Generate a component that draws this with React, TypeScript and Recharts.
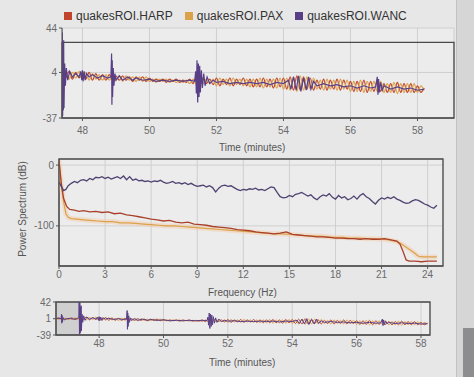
import { LineChart, Line, XAxis, YAxis, CartesianGrid, ReferenceArea } from "recharts";

// series names + colours
const NAMES = ["quakesROI.HARP", "quakesROI.PAX", "quakesROI.WANC"];
const COLORS = ["#c0452c", "#dba24a", "#583f86"];

// seismogram, common sample times (minutes)
const TIME = [
  47.4, 47.5, 47.6, 47.7, 47.8, 47.9,
  48.0, 48.1, 48.2, 48.3, 48.4, 48.5, 48.6, 48.7, 48.8, 48.9,
  49.0, 49.1, 49.2, 49.3, 49.4, 49.5, 49.6, 49.7, 49.8, 49.9,
  50.0, 50.1, 50.2, 50.3, 50.4, 50.5, 50.6, 50.7, 50.8, 50.9,
  51.0, 51.1, 51.2, 51.3, 51.4, 51.5, 51.6, 51.7, 51.8, 51.9,
  52.0, 52.1, 52.2, 52.3, 52.4, 52.5, 52.6, 52.7, 52.8, 52.9,
  53.0, 53.1, 53.2, 53.3, 53.4, 53.5, 53.6, 53.7, 53.8, 53.9,
  54.0, 54.1, 54.2, 54.3, 54.4, 54.5, 54.6, 54.7, 54.8, 54.9,
  55.0, 55.1, 55.2, 55.3, 55.4, 55.5, 55.6, 55.7, 55.8, 55.9,
  56.0, 56.1, 56.2, 56.3, 56.4, 56.5, 56.6, 56.7, 56.8, 56.9,
  57.0, 57.1, 57.2, 57.3, 57.4, 57.5, 57.6, 57.7, 57.8, 57.9,
  58.0, 58.1, 58.2,
];
const HARP_WAVE = [
  4, -1, 5, -2, 4, -1,
  3, -2, 4, -3, 3, -3, 2, -3, 2, -3,
  1, -3, 1, -3, 0, -4, 0, -3, 0, -4,
  -1, -4, -2, -4, -2, -5, -2, -4, -2, -5,
  -3, -5, -2, -6, 0, -7, -1, -6, -2, -7,
  -1, -8, -2, -7, -1, -8, -2, -7, -1, -8,
  -2, -9, -2, -9, -1, -9, -2, -10, -1, -9,
  -1, -11, 0, -12, 1, -12, 0, -11, -1, -12,
  -3, -11, -2, -12, -3, -11, -2, -12, -3, -11,
  -4, -13, -4, -13, -3, -14, -4, -13, -4, -13,
  -6, -14, -6, -14, -5, -14, -6, -14, -6, -14,
  -8, -14, -10,
];
const PAX_WAVE = [
  -1, 5, -2, 4, -1, 5,
  -2, 4, -3, 3, -2, 2, -3, 2, -3, 1,
  -3, 1, -4, 1, -3, 0, -4, 0, -4, 0,
  -4, -2, -5, -2, -4, -2, -5, -3, -5, -3,
  -5, -3, -6, -2, -7, 0, -6, -2, -6, -2,
  -8, -1, -7, -2, -8, -1, -7, -2, -8, -2,
  -9, -2, -9, -1, -10, -2, -9, -2, -10, -1,
  -11, -1, -12, 0, -13, 1, -12, 0, -11, -1,
  -11, -3, -12, -2, -11, -3, -12, -2, -11, -3,
  -13, -4, -13, -3, -14, -4, -13, -4, -13, -4,
  -14, -6, -14, -5, -15, -6, -14, -6, -14, -6,
  -14, -8, -12,
];
// WANC has the sharp arrivals, sampled on its own times
const WANC_TIME = [
  47.37, 47.38, 47.39, 47.4, 47.41, 47.42, 47.43, 47.44, 47.45, 47.47, 47.49, 47.52, 47.56, 47.62, 47.7, 47.8, 47.9,
  47.95, 47.98, 48.0, 48.02, 48.05, 48.08, 48.12, 48.2, 48.3, 48.45, 48.6, 48.75, 48.85,
  48.87, 48.88, 48.89, 48.9, 48.92, 48.94, 48.97, 49.0, 49.1, 49.2, 49.35, 49.5, 49.6, 49.8,
  50.0, 50.2, 50.4, 50.6, 50.8, 51.0, 51.2, 51.35,
  51.38, 51.4, 51.42, 51.44, 51.46, 51.48, 51.5, 51.52, 51.55, 51.58, 51.62, 51.66, 51.72, 51.8, 51.9,
  52.0, 52.2, 52.4, 52.6, 52.8, 53.0, 53.2, 53.4, 53.6, 53.8, 54.0,
  54.15, 54.22, 54.3, 54.38, 54.45, 54.52, 54.6, 54.68, 54.75, 54.82, 54.9,
  55.0, 55.2, 55.4, 55.6, 55.8, 56.0, 56.2, 56.4, 56.6, 56.75,
  56.8, 56.82, 56.84, 56.86, 56.9, 56.95, 57.0, 57.2, 57.4, 57.6, 57.8, 58.0, 58.2,
];
const WANC_WAVE = [
  4, 44, -37, 40, -35, 30, -30, 33, -28, 12, -8, 8, -3, 5, 0, 3, 0,
  5, -3, 6, -4, 5, -3, 3, 0, 2, -1, 1, -1, 0,
  21, -25, 15, -18, 8, -8, 3, -3, 1, -3, 0, -3, -1, -3,
  -2, -4, -3, -4, -3, -4, -3, -4,
  5, -15, 15, -23, 12, -18, 10, -14, 6, -10, 3, -8, 0, -6, -3,
  -5, -4, -6, -5, -6, -5, -6, -5, -7, -5, -6,
  -3, -11, 0, -12, 1, -13, -1, -12, 0, -11, -4,
  -8, -6, -8, -7, -9, -8, -10, -8, -10, -9,
  0, -16, -2, -14, -5, -12, -8, -11, -9, -11, -10, -12, -11,
];
// overview only: the minute before the zoomed window
const PRE_TIME = [46.66, 46.75, 46.85, 46.95, 47.05, 47.15, 47.25, 47.35];
const HARP_PRE = [1, 3, -1, 2, 0, 3, -1, 2];
const PAX_PRE = [2, -1, 3, 0, 2, -1, 3, 0];
const WANC_PRE_TIME = [46.66, 46.75, 46.82, 46.83, 46.84, 46.85, 46.86, 46.88, 46.92, 47.0, 47.1, 47.2, 47.3];
const WANC_PRE = [1, 2, 1, 12, -10, 9, -7, 4, -2, 1, 2, 0, 1];

// power spectra (Hz, dB)
const HARP_FREQ = [
  0, 0.15, 0.3, 0.5, 0.7, 1.0, 1.3, 1.6, 2.0, 2.4, 2.8, 3.2, 3.6, 4.0, 4.4, 4.8, 5.2, 5.6, 6.0, 6.4, 6.8,
  7.2, 7.6, 8.0, 8.4, 8.8, 9.2, 9.6, 10.0, 10.4, 10.8, 11.2, 11.6, 12.0, 12.4, 12.8, 13.2, 13.6, 14.0,
  14.4, 14.8, 15.2, 15.6, 16.0, 16.4, 16.8, 17.2, 17.6, 18.0, 18.4, 18.8, 19.2, 19.6, 20.0, 20.4, 20.8,
  21.2, 21.6, 22.0, 22.2, 22.4, 22.6, 22.8, 23.2, 23.6, 24.0, 24.4, 24.6,
];
const HARP_DB = [
  8, -30, -55, -68, -73, -74, -76, -75, -77, -76, -78, -77, -80, -79, -82, -83, -85, -87, -89, -90, -92,
  -91, -94, -95, -94, -97, -98, -99, -101, -102, -103, -104, -106, -107, -108, -110, -111, -112, -113,
  -112, -110, -114, -115, -116, -117, -118, -118, -119, -120, -120, -121, -121, -122, -121, -122, -122,
  -121, -123, -125, -130, -142, -156, -158, -158, -159, -158, -158, -158,
];
const PAX_FREQ = [
  0, 0.15, 0.3, 0.45, 0.6, 0.8, 1.2, 1.6, 2.0, 2.5, 3.0, 3.5, 4.0, 4.5, 5.0, 5.5, 6.0, 6.5, 7.0, 7.5,
  8.0, 8.5, 9.0, 9.5, 10.0, 10.5, 11.0, 11.5, 12.0, 12.5, 13.0, 13.5, 14.0, 14.5, 15.0, 15.5, 16.0,
  16.5, 17.0, 17.5, 18.0, 18.5, 19.0, 19.5, 20.0, 20.5, 21.0, 21.5, 22.0, 22.3, 22.6, 22.9, 23.2,
  23.4, 23.7, 24.0, 24.4, 24.6,
];
const PAX_DB = [
  8, -35, -60, -80, -86, -88, -89, -90, -91, -92, -93, -93, -95, -95, -96, -97, -98, -99, -100, -100,
  -101, -102, -103, -104, -105, -106, -107, -108, -109, -110, -111, -112, -113, -113, -114, -115, -116,
  -117, -117, -118, -119, -119, -120, -120, -121, -121, -122, -123, -126, -130, -135, -140, -146,
  -150, -151, -151, -151, -151,
];
const WANC_FREQ = [
  0, 0.15, 0.3, 0.45, 0.6, 0.8, 1.0, 1.2, 1.4, 1.6, 1.8, 2.0, 2.2, 2.4, 2.6, 2.8, 3.0, 3.2, 3.4, 3.6,
  3.8, 4.0, 4.2, 4.4, 4.6, 4.8, 5.0, 5.2, 5.4, 5.6, 5.8, 6.0, 6.2, 6.4, 6.6, 6.8, 7.0, 7.2, 7.4, 7.6,
  7.8, 8.0, 8.2, 8.4, 8.6, 8.8, 9.0, 9.2, 9.4, 9.6, 9.8, 10.0, 10.2, 10.4, 10.6, 10.8, 11.0, 11.2,
  11.4, 11.6, 11.8, 12.0, 12.2, 12.4, 12.6, 12.8, 13.0, 13.2, 13.4, 13.6, 13.8, 14.0, 14.2, 14.4,
  14.6, 14.8, 15.0, 15.2, 15.4, 15.6, 15.8, 16.0, 16.2, 16.4, 16.6, 16.8, 17.0, 17.2, 17.4, 17.6,
  17.8, 18.0, 18.2, 18.4, 18.6, 18.8, 19.0, 19.2, 19.4, 19.6, 19.8, 20.0, 20.2, 20.4, 20.6, 20.8,
  21.0, 21.2, 21.4, 21.6, 21.8, 22.0, 22.2, 22.4, 22.6, 22.8, 23.0, 23.2, 23.4, 23.6, 23.8, 24.0,
  24.2, 24.4, 24.6,
];
const WANC_DB = [
  -28, -35, -42, -40, -34, -30, -27, -29, -25, -24, -26, -22, -24, -20, -21, -19, -22, -20, -23, -21,
  -19, -22, -18, -24, -19, -25, -23, -26, -25, -27, -26, -28, -26, -27, -25, -28, -30, -29, -27, -30,
  -29, -31, -29, -32, -30, -33, -35, -34, -33, -36, -34, -37, -44, -38, -34, -33, -35, -34,
  -37, -40, -42, -40, -41, -39, -40, -38, -41, -40, -42, -39, -36, -37, -45, -52,
  -54, -53, -50, -52, -48, -47, -45, -48, -51, -49, -54, -57, -52, -49, -51, -47,
  -53, -56, -50, -54, -52, -57, -55, -51, -56, -50, -47, -52, -55, -60, -64, -58,
  -54, -56, -53, -55, -52, -56, -58, -61, -63, -62, -59, -57, -58, -61, -64, -66,
  -69, -71, -66,
];

const TIME_TICKS = [48, 50, 52, 54, 56, 58];
const FREQ_TICKS = [0, 3, 6, 9, 12, 15, 18, 21, 24];

const pts = (xs: number[], ys: number[]) => xs.map((t, i) => ({ t, v: ys[i] }));

const tickStyle = { fontSize: 10, fill: "#6a6a6a", fontFamily: "Liberation Sans, Arial, sans-serif" };
const titleStyle: React.CSSProperties = {
  position: "absolute",
  fontSize: 10,
  color: "#555",
  fontFamily: "Liberation Sans, Arial, sans-serif",
  whiteSpace: "nowrap",
};

export default function App() {
  const harpTop = pts(TIME, HARP_WAVE);
  const paxTop = pts(TIME, PAX_WAVE);
  const wancTop = pts(WANC_TIME, WANC_WAVE);
  const harpAll = [...pts(PRE_TIME, HARP_PRE), ...harpTop];
  const paxAll = [...pts(PRE_TIME, PAX_PRE), ...paxTop];
  const wancAll = [...pts(WANC_PRE_TIME, WANC_PRE), ...wancTop];

  return (
    <div
      style={{
        position: "absolute",
        left: 0,
        top: 0,
        width: 474,
        height: 377,
        overflow: "hidden",
        background: "#e7e7e8",
        fontFamily: "Liberation Sans, Arial, sans-serif",
      }}
    >
      {/* window edge on the right */}
      <div style={{ position: "absolute", left: 456, top: 0, width: 18, height: 377, background: "#d6d6d7", borderLeft: "1px solid #c2c2c4" }} />
      <div style={{ position: "absolute", left: 463, top: 328, width: 11, height: 49, background: "#8d8d8f" }} />

      {/* legend */}
      <div style={{ position: "absolute", left: 64, top: 9, display: "flex", gap: 12, fontSize: 12, color: "#333" }}>
        {NAMES.map((n, i) => (
          <div key={n} style={{ display: "flex", alignItems: "center", gap: 4 }}>
            <span style={{ width: 8, height: 8, background: COLORS[i], display: "inline-block" }} />
            {n}
          </div>
        ))}
      </div>

      {/* zoomed seismograms */}
      <div style={{ position: "absolute", left: 0, top: 0 }}>
        <LineChart width={474} height={160} margin={{ top: 28, right: 20, bottom: 22, left: 32 }}>
          <CartesianGrid stroke="#cfcfd1" fill="#ececed" />
          <XAxis
            type="number"
            dataKey="t"
            domain={[47.39, 59.09]}
            ticks={TIME_TICKS}
            allowDataOverflow
            height={20}
            tick={tickStyle}
            tickSize={3}
            tickMargin={6}
            axisLine={{ stroke: "#555" }}
            tickLine={{ stroke: "#555" }}
          />
          <YAxis
            type="number"
            domain={[-37, 44]}
            ticks={[-37, 4, 44]}
            allowDataOverflow
            width={30}
            tick={tickStyle}
            tickSize={3}
            tickMargin={2}
            axisLine={{ stroke: "#555" }}
            tickLine={{ stroke: "#555" }}
          />
          <ReferenceArea x1={47.39} x2={59.09} y1={-37} y2={31} fill="none" stroke="#4a4a4a" strokeWidth={1.3} />
          <Line data={harpTop} dataKey="v" type="monotone" stroke={COLORS[0]} strokeWidth={1.2} dot={false} isAnimationActive={false} />
          <Line data={paxTop} dataKey="v" type="monotone" stroke={COLORS[1]} strokeWidth={1.2} dot={false} isAnimationActive={false} />
          <Line data={wancTop} dataKey="v" stroke={COLORS[2]} strokeWidth={1.2} dot={false} isAnimationActive={false} />
        </LineChart>
      </div>
      <div style={{ ...titleStyle, left: 219, top: 142 }}>Time (minutes)</div>

      {/* power spectra */}
      <div style={{ position: "absolute", left: 0, top: 140 }}>
        <LineChart width={474} height={160} margin={{ top: 19, right: 31, bottom: 14, left: 29 }}>
          <CartesianGrid stroke="#cfcfd1" fill="#ececed" />
          <XAxis
            type="number"
            dataKey="t"
            domain={[0, 25]}
            ticks={FREQ_TICKS}
            allowDataOverflow
            height={20}
            tick={tickStyle}
            tickSize={3}
            tickMargin={2}
            axisLine={{ stroke: "#555" }}
            tickLine={{ stroke: "#555" }}
          />
          <YAxis
            type="number"
            domain={[-166, 10]}
            ticks={[-100, 0]}
            allowDataOverflow
            width={30}
            tick={tickStyle}
            tickSize={3}
            tickMargin={2}
            axisLine={{ stroke: "#555" }}
            tickLine={{ stroke: "#555" }}
          />
          <ReferenceArea x1={0} x2={25} y1={-166} y2={10} fill="none" stroke="#4a4a4a" strokeWidth={1.3} />
          <Line data={pts(PAX_FREQ, PAX_DB)} dataKey="v" stroke="#f3c9a5" strokeOpacity={0.45} strokeWidth={5} dot={false} isAnimationActive={false} />
          <Line data={pts(PAX_FREQ, PAX_DB)} dataKey="v" stroke={COLORS[1]} strokeWidth={1.2} dot={false} isAnimationActive={false} />
          <Line data={pts(HARP_FREQ, HARP_DB)} dataKey="v" stroke="#a8402b" strokeWidth={1.3} dot={false} isAnimationActive={false} />
          <Line data={pts(WANC_FREQ, WANC_DB)} dataKey="v" stroke="#4e4370" strokeWidth={1.3} dot={false} isAnimationActive={false} />
        </LineChart>
      </div>
      <div style={{ ...titleStyle, left: 208, top: 287 }}>Frequency (Hz)</div>
      <div
        style={{
          ...titleStyle,
          left: 22,
          top: 209,
          transform: "translate(-50%, -50%) rotate(-90deg)",
        }}
      >
        Power Spectrum (dB)
      </div>

      {/* overview */}
      <div style={{ position: "absolute", left: 0, top: 285 }}>
        <LineChart width={474} height={92} margin={{ top: 17, right: 44, bottom: 22, left: 26 }}>
          <CartesianGrid stroke="#cfcfd1" fill="#ececed" />
          <XAxis
            type="number"
            dataKey="t"
            domain={[46.66, 58.28]}
            ticks={TIME_TICKS}
            allowDataOverflow
            height={20}
            tick={tickStyle}
            tickSize={3}
            tickMargin={2}
            axisLine={{ stroke: "#555" }}
            tickLine={{ stroke: "#555" }}
          />
          <YAxis
            type="number"
            domain={[-39, 42]}
            ticks={[-39, 1, 42]}
            allowDataOverflow
            width={30}
            tick={tickStyle}
            tickSize={3}
            tickMargin={2}
            axisLine={{ stroke: "#555" }}
            tickLine={{ stroke: "#555" }}
          />
          <Line data={harpAll} dataKey="v" type="monotone" stroke={COLORS[0]} strokeWidth={1} dot={false} isAnimationActive={false} />
          <Line data={paxAll} dataKey="v" type="monotone" stroke={COLORS[1]} strokeWidth={1} dot={false} isAnimationActive={false} />
          <Line data={wancAll} dataKey="v" stroke={COLORS[2]} strokeWidth={1} dot={false} isAnimationActive={false} />
          <ReferenceArea x1={46.66} x2={47.39} y1={-39} y2={42} fill="#9a9a9c" fillOpacity={0.35} stroke="none" />
          <ReferenceArea x1={46.66} x2={58.28} y1={-39} y2={42} fill="none" stroke="#4a4a4a" strokeWidth={1.3} />
        </LineChart>
      </div>
      <div style={{ ...titleStyle, left: 209, top: 357 }}>Time (minutes)</div>
    </div>
  );
}
